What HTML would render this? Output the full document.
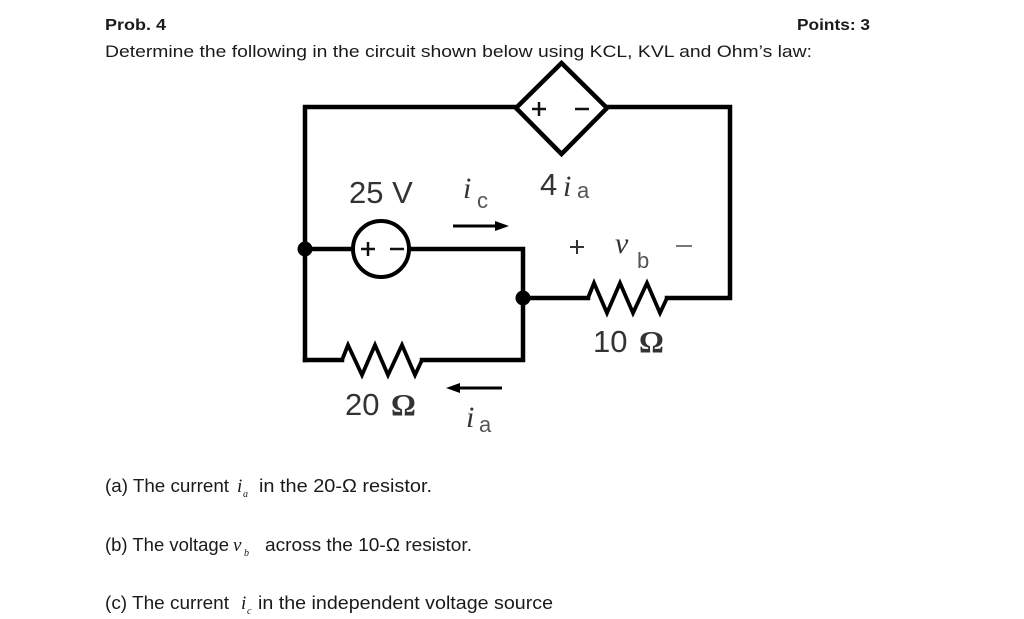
<!DOCTYPE html>
<html><head><meta charset="utf-8"><style>
html,body{margin:0;padding:0;background:#fff;}
svg{display:block;}
</style></head><body>
<svg width="1024" height="619" viewBox="0 0 1024 619" xmlns="http://www.w3.org/2000/svg">
<rect width="1024" height="619" fill="#fff"/>
<!-- header -->
<g font-family="Liberation Sans, sans-serif" fill="#1a1a1a">
<text x="105" y="30" font-size="16" font-weight="bold" textLength="61" lengthAdjust="spacingAndGlyphs">Prob. 4</text>
<text x="797" y="30" font-size="16" font-weight="bold" textLength="73" lengthAdjust="spacingAndGlyphs">Points: 3</text>
<text x="105" y="57" font-size="17" textLength="707" lengthAdjust="spacingAndGlyphs">Determine the following in the circuit shown below using KCL, KVL and Ohm’s law:</text>
</g>

<!-- wires -->
<g fill="none" stroke="#000" stroke-width="4.5" stroke-linejoin="miter" stroke-linecap="square">
<path d="M305,360 V107 H516"/>
<path d="M607,107 H730 V298 H667"/>
<path d="M523,298 H588"/>
<path d="M305,249 H353"/>
<path d="M409,249 H523 V360 H422"/>
<path d="M305,360 H342"/>
</g>
<g fill="none" stroke="#000" stroke-width="3.8" stroke-linejoin="miter">
<path d="M588,298 L594,283 L607,313 L620,283 L633,313 L647,283 L660,313 L667,298"/>
<path d="M342,360 L348,345 L362,375 L375,345 L388,375 L402,345 L415,375 L422,360"/>
</g>

<!-- dependent source -->
<polygon points="561.5,63 607,108 561.5,154 516,108" fill="#fff" stroke="#000" stroke-width="4.5"/>
<g stroke="#111" stroke-width="2.5">
<line x1="532" y1="109" x2="546" y2="109"/>
<line x1="539" y1="102" x2="539" y2="116"/>
<line x1="575" y1="109" x2="589" y2="109"/>
</g>

<!-- independent source -->
<circle cx="381" cy="249" r="28" fill="#fff" stroke="#000" stroke-width="4"/>
<g stroke="#111" stroke-width="2.5">
<line x1="361" y1="249" x2="375" y2="249"/>
<line x1="368" y1="242" x2="368" y2="256"/>
<line x1="390" y1="249" x2="404" y2="249"/>
</g>

<!-- nodes -->
<circle cx="305" cy="249" r="7.5" fill="#000"/>
<circle cx="523" cy="298" r="7.5" fill="#000"/>

<!-- arrows -->
<g stroke="#000" stroke-width="3">
<line x1="453" y1="226" x2="498" y2="226"/>
<line x1="457" y1="388" x2="502" y2="388"/>
</g>
<polygon points="509,226 495,221 495,231" fill="#000"/>
<polygon points="446,388 460,383 460,393" fill="#000"/>

<!-- labels -->
<g font-family="Liberation Sans, sans-serif" fill="#333" font-size="31">
<text x="349" y="203">25 V</text>
<text x="540" y="195">4</text>
<text x="593" y="352">10</text>
<text x="345" y="415">20</text>
</g>
<g font-family="Liberation Serif, serif" font-weight="bold" fill="#333" font-size="31">
<text x="639" y="352">Ω</text>
<text x="391" y="415">Ω</text>
</g>
<g font-family="Liberation Serif, serif" font-style="italic" fill="#333" font-size="30">
<text x="463" y="198">i</text>
<text x="563" y="196">i</text>
<text x="615" y="253">v</text>
<text x="466" y="427">i</text>
</g>
<g font-family="Liberation Sans, sans-serif" fill="#555" font-size="22">
<text x="477" y="208">c</text>
<text x="577" y="198">a</text>
<text x="637" y="268">b</text>
<text x="479" y="432">a</text>
</g>
<g stroke="#333" stroke-width="2">
<line x1="570" y1="247" x2="584" y2="247"/>
<line x1="577" y1="240" x2="577" y2="254"/>
</g>
<line x1="676" y1="246" x2="692" y2="246" stroke="#777" stroke-width="2"/>

<!-- questions -->
<g font-family="Liberation Sans, sans-serif" fill="#1a1a1a" font-size="18">
<text x="105" y="492" textLength="124" lengthAdjust="spacingAndGlyphs">(a) The current</text>
<text x="259" y="492" textLength="173" lengthAdjust="spacingAndGlyphs">in the 20-Ω resistor.</text>
<text x="105" y="551" textLength="124" lengthAdjust="spacingAndGlyphs">(b) The voltage</text>
<text x="265" y="551" textLength="207" lengthAdjust="spacingAndGlyphs">across the 10-Ω resistor.</text>
<text x="105" y="609" textLength="124" lengthAdjust="spacingAndGlyphs">(c) The current</text>
<text x="258" y="609" textLength="295" lengthAdjust="spacingAndGlyphs">in the independent voltage source</text>
</g>
<g font-family="Liberation Serif, serif" font-style="italic" fill="#1a1a1a">
<text x="237" y="492" font-size="19">i</text>
<text x="243" y="497" font-size="10">a</text>
<text x="233" y="551" font-size="19">v</text>
<text x="244" y="556" font-size="10">b</text>
<text x="241" y="609" font-size="19">i</text>
<text x="247" y="614" font-size="10">c</text>
</g>
</svg>
</body></html>
